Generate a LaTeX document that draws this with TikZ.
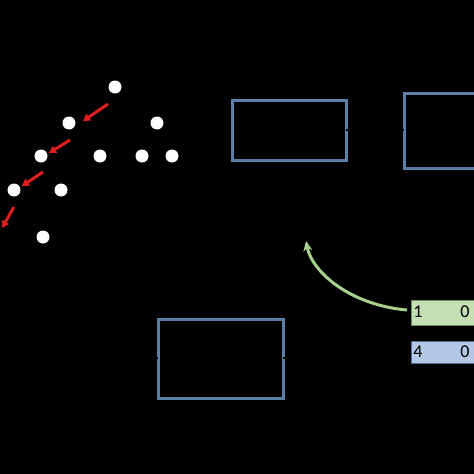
\documentclass[tikz,border=0pt]{standalone}
\usepackage{fontspec}
\setmainfont{Carlito}
\usetikzlibrary{arrows.meta}
\definecolor{boxblue}{HTML}{5B80AA}
\definecolor{redarr}{HTML}{E01E1E}
\definecolor{greenarr}{HTML}{A9D18E}
\definecolor{greenfill}{HTML}{C5E0B4}
\definecolor{greenedge}{HTML}{6F8F5F}
\definecolor{bluefill}{HTML}{B4C7E7}
\definecolor{blueedge}{HTML}{4F6F9F}
\tikzset{
  dot/.style={circle,fill=white,inner sep=0pt,minimum size=13pt},
  redarrow/.style={draw=redarr,line width=3pt,-{Triangle[length=7pt,width=8pt]}},
  frame/.style={draw=boxblue,line width=3pt},
  cell/.style={font=\fontsize{18}{20}\selectfont,inner sep=0pt,anchor=center},
}
\begin{document}
\begin{tikzpicture}[x=1pt,y=-1pt]
\fill[black] (0,0) rectangle (474,474);
\useasboundingbox (0,0) rectangle (474,474);
% dots
\node[dot] (d1) at (115,87) {};
\node[dot] (d2) at (69,123) {};
\node[dot] (d3) at (157,123) {};
\node[dot] (d4) at (41,156) {};
\node[dot] (d5) at (100,156) {};
\node[dot] (d6) at (142,156) {};
\node[dot] (d7) at (172,156) {};
\node[dot] (d8) at (14,190) {};
\node[dot] (d9) at (61,190) {};
\node[dot] (d10) at (43,237) {};
% red arrows
\coordinate (a1s) at (108,104);
\coordinate (a1e) at (83,121);
\coordinate (a2s) at (70,140);
\coordinate (a2e) at (49,153);
\coordinate (a3s) at (43,172);
\coordinate (a3e) at (22,186);
\coordinate (a4s) at (14,207);
\coordinate (a4e) at (2,228);
\draw[redarrow] (a1s) -- (a1e);
\draw[redarrow] (a2s) -- (a2e);
\draw[redarrow] (a3s) -- (a3e);
\draw[redarrow] (a4s) -- (a4e);
% blue frames
\draw[frame] (232,100) rectangle (346,160);
\draw[frame] (404,93) rectangle (490,168);
\draw[frame] (158,319) rectangle (283,398);
\coordinate (r1r) at (346,130);
\coordinate (r2l) at (404,130);
\coordinate (r3l) at (158,358);
\coordinate (r3r) at (283,358);
\coordinate (r3lo) at (150,358);
\coordinate (r3ro) at (291,358);
\draw[black,line width=1.5pt] (r1r) -- (r2l);
\draw[black,line width=1.5pt] (r3lo) -- (r3l);
\draw[black,line width=1.5pt] (r3r) -- (r3ro);
% table rows
\draw[fill=greenfill,draw=greenedge,line width=0.8pt] (411,300) rectangle (490,325);
\draw[fill=bluefill,draw=blueedge,line width=0.8pt] (411,341) rectangle (490,363);
\node[cell] (g1) at (418,312) {1};
\node[cell] (g0) at (465,312) {0};
\node[cell] (b4) at (418,352) {4};
\node[cell] (b0) at (465,352) {0};
\coordinate (gs) at (407,310);
\coordinate (ge) at (306,241);
\draw[greenarr,line width=3pt,-{Stealth[length=10pt,width=9pt]}] (gs) .. controls (350,305) and (312,272) .. (ge);
\end{tikzpicture}
\end{document}
